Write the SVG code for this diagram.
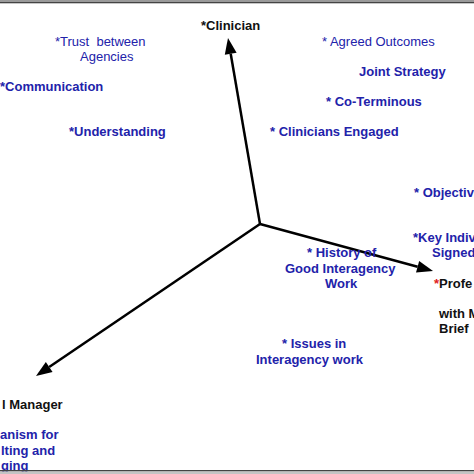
<svg xmlns="http://www.w3.org/2000/svg" width="474" height="474" viewBox="0 0 474 474">
<defs>
<style>
text{font-family:"Liberation Sans",Arial,sans-serif;font-size:13px}
.b{font-weight:bold}
.blue{fill:#2222aa}
.blk{fill:#111}
.ax{stroke:#000;stroke-width:2.5;fill:none}
</style>
<marker id="ah" markerUnits="userSpaceOnUse" markerWidth="16" markerHeight="12" refX="0" refY="6" orient="auto" overflow="visible">
<path d="M0,0 L16,6 L0,12 z" fill="#000"/>
</marker>
</defs>
<rect width="474" height="474" fill="#fff"/>
<g id="connectors">
<line class="ax" x1="260" y1="224" x2="230.7" y2="53.8" marker-end="url(#ah)"/>
<line class="ax" x1="260" y1="224" x2="417.6" y2="266.8" marker-end="url(#ah)"/>
<line class="ax" x1="260" y1="224" x2="49.2" y2="367" marker-end="url(#ah)"/>
</g>
<g id="clinician"><text class="b blk" x="201" y="30">*Clinician</text></g>
<g id="trust"><text class="blue" x="55" y="46" xml:space="preserve">*Trust  between</text><text class="blue" x="80" y="61">Agencies</text></g>
<g id="communication"><text class="b blue" x="0" y="91">*Communication</text></g>
<g id="understanding"><text class="b blue" x="69" y="136">*Understanding</text></g>
<g id="agreed"><text class="blue" x="322" y="45.5">* Agreed Outcomes</text></g>
<g id="joint"><text class="b blue" x="359" y="76">Joint Strategy</text></g>
<g id="coterminous"><text class="b blue" x="326" y="105.5">* Co-Terminous</text></g>
<g id="engaged"><text class="b blue" x="270" y="136">* Clinicians Engaged</text></g>
<g id="objectiv"><text class="b blue" x="414" y="197">* Objectiv</text></g>
<g id="keyindiv"><text class="b blue" x="413" y="242">*Key Indiv</text><text class="b blue" x="432" y="257">Signed</text></g>
<g id="history"><text class="b blue" x="307" y="256.5">* History of</text><text class="b blue" x="285" y="273">Good Interagency</text><text class="b blue" x="325" y="287.5">Work</text></g>
<g id="profe"><text class="b blk" x="434" y="288"><tspan fill="#e02020">*</tspan>Profe</text><text class="b blk" x="439" y="318">with M</text><text class="b blk" x="439" y="332.5">Brief</text></g>
<g id="issues"><text class="b blue" x="282" y="348">* Issues in</text><text class="b blue" x="256" y="364">Interagency work</text></g>
<g id="manager"><text class="b blk" x="2" y="408.5">l Manager</text></g>
<g id="mechanism"><text class="b blue" x="0" y="439">anism for</text><text class="b blue" x="1" y="454.5">lting and</text><text class="b blue" x="1" y="470">ging</text></g>
<g id="frame">
<rect x="0" y="0" width="474" height="2" fill="#9a9a9a"/>
<rect x="0" y="2" width="474" height="1.3" fill="#444"/>
<rect x="0" y="470" width="474" height="1.5" fill="#444"/>
<rect x="0" y="471.5" width="474" height="2.5" fill="#c4c4c4"/>
</g>
</svg>
